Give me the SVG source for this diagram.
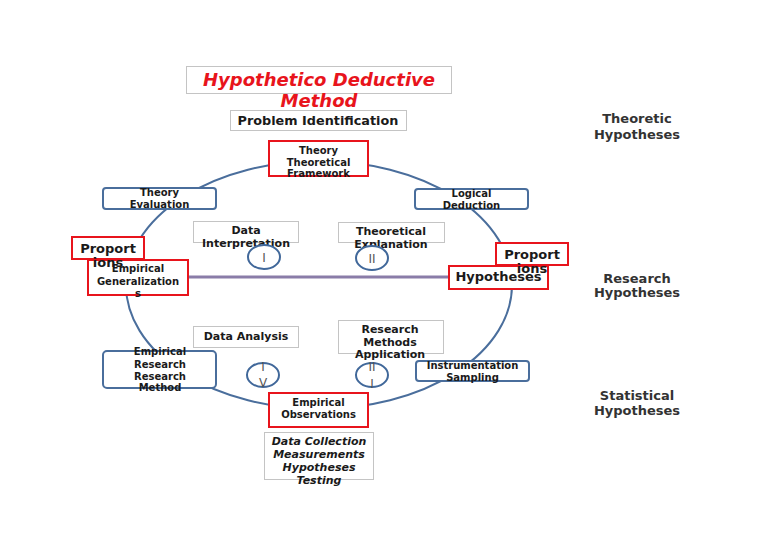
<svg xmlns="http://www.w3.org/2000/svg" width="768" height="543" viewBox="0 0 768 543">
<style>
.t{font-family:"DejaVu Sans",Verdana,sans-serif;font-weight:bold;fill:#1a1a1a;text-anchor:middle}
.s10{font-size:10px}.s11{font-size:11px}.s13{font-size:13px}
.side{fill:#333}
.gray{fill:#fff;stroke:#c4c4c4;stroke-width:1}
.red{fill:#fff;stroke:#e8141c;stroke-width:2}
.blue{fill:#fff;stroke:#4a6e9c;stroke-width:2}
.circ{fill:#fff;stroke:#41689a;stroke-width:2}
.ct{font-family:"DejaVu Sans",Verdana,sans-serif;font-size:12px;fill:#555;text-anchor:middle}
</style>
<rect width="768" height="543" fill="#fff"/>
<g id="connectors">
<ellipse cx="319" cy="285" rx="193" ry="124" fill="none" stroke="#4a6e9c" stroke-width="2"/>
<line x1="188" y1="277" x2="449" y2="277" stroke="#8a7ca8" stroke-width="3"/>
</g>
<g id="title">
<rect class="gray" x="186.5" y="66.5" width="265" height="27"/>
<text class="t" style="font-size:18px;font-style:italic;fill:#e8141c" x="319" y="85.5">Hypothetico Deductive</text>
<text class="t" style="font-size:18px;font-style:italic;fill:#e8141c" x="319" y="106.5">Method</text>
</g>
<g id="problem">
<rect class="gray" x="230.5" y="110.5" width="176" height="20"/>
<text class="t" style="font-size:12.8px" x="318" y="124.5">Problem Identification</text>
</g>
<g id="theory">
<rect class="red" x="269" y="141" width="99" height="35"/>
<text class="t s10" x="318.5" y="154">Theory</text>
<text class="t s10" x="318.5" y="165.5">Theoretical</text>
<text class="t s10" x="318.5" y="177">Framework</text>
</g>
<g id="theory-eval">
<rect class="blue" x="103" y="188" width="113" height="21" rx="3"/>
<text class="t s10" x="159.5" y="195.5">Theory</text>
<text class="t s10" x="159.5" y="207.5">Evaluation</text>
</g>
<g id="logical">
<rect class="blue" x="415" y="189" width="113" height="20" rx="3"/>
<text class="t s10" x="471.5" y="196.5">Logical</text>
<text class="t s10" x="471.5" y="208.5">Deduction</text>
</g>
<g id="data-interp">
<rect class="gray" x="193.5" y="221.5" width="105" height="21"/>
<text class="t s11" x="246" y="234">Data</text>
<text class="t s11" x="246" y="247">Interpretation</text>
</g>
<g id="theo-expl">
<rect class="gray" x="338.5" y="222.5" width="106" height="20"/>
<text class="t s11" x="391" y="235">Theoretical</text>
<text class="t s11" x="391" y="248">Explanation</text>
</g>
<g id="circle-1">
<ellipse class="circ" cx="264" cy="257" rx="16" ry="12"/>
<text class="ct" x="264" y="261.5">I</text>
</g>
<g id="circle-2">
<ellipse class="circ" cx="372" cy="258" rx="16" ry="12"/>
<text class="ct" x="372" y="262.5">II</text>
</g>
<g id="emp-gen">
<rect class="red" x="88" y="260" width="100" height="35"/>
<text class="t s10" x="138" y="271.5">Empirical</text>
<text class="t s10" x="138" y="284.5">Generalization</text>
<text class="t s10" x="138" y="296.5">s</text>
</g>
<g id="prop-left">
<rect class="red" x="72" y="237" width="72" height="22"/>
<text class="t s13" x="108" y="252.5">Proport</text>
<text class="t s13" x="108" y="266.5">ions</text>
</g>
<g id="hypotheses">
<rect class="red" x="449" y="266" width="99" height="23"/>
<text class="t s13" x="498.5" y="280.5">Hypotheses</text>
</g>
<g id="prop-right">
<rect class="red" x="496" y="243" width="72" height="22"/>
<text class="t s13" x="532" y="258.5">Proport</text>
<text class="t s13" x="532" y="272.5">ions</text>
</g>
<g id="data-analysis">
<rect class="gray" x="193.5" y="326.5" width="105" height="21"/>
<text class="t s11" x="246" y="340">Data Analysis</text>
</g>
<g id="research-methods">
<rect class="gray" x="338.5" y="320.5" width="105" height="33"/>
<text class="t s11" x="390" y="333">Research</text>
<text class="t s11" x="390" y="346">Methods</text>
<text class="t s11" x="390" y="358">Application</text>
</g>
<g id="circle-4">
<ellipse class="circ" cx="263" cy="375" rx="16" ry="12"/>
<text class="ct" x="263" y="370.5">I</text>
<text class="ct" x="263" y="386.5">V</text>
</g>
<g id="circle-3">
<ellipse class="circ" cx="372" cy="375" rx="16" ry="12"/>
<text class="ct" x="372" y="370.5">II</text>
<text class="ct" x="372" y="387.5">I</text>
</g>
<g id="emp-research">
<rect class="blue" x="103" y="351" width="113" height="37" rx="4"/>
<text class="t s10" x="160" y="354.5">Empirical</text>
<text class="t s10" x="160" y="367.5">Research</text>
<text class="t s10" x="160" y="379.5">Research</text>
<text class="t s10" x="160" y="391">Method</text>
</g>
<g id="instrumentation">
<rect class="blue" x="416" y="361" width="113" height="20" rx="3"/>
<text class="t s10" x="472.5" y="368.5">Instrumentation</text>
<text class="t s10" x="472.5" y="380.5">Sampling</text>
</g>
<g id="emp-obs">
<rect class="red" x="269" y="393" width="99" height="34"/>
<text class="t s10" x="318.5" y="405.5">Empirical</text>
<text class="t s10" x="318.5" y="417.5">Observations</text>
</g>
<g id="data-collection">
<rect class="gray" x="264.5" y="432.5" width="109" height="47"/>
<text class="t s11" style="font-style:italic" x="319" y="445">Data Collection</text>
<text class="t s11" style="font-style:italic" x="319" y="458">Measurements</text>
<text class="t s11" style="font-style:italic" x="319" y="471">Hypotheses</text>
<text class="t s11" style="font-style:italic" x="319" y="484">Testing</text>
</g>
<g id="side-theoretic">
<text class="t s13 side" x="637" y="122.5">Theoretic</text>
<text class="t s13 side" x="637" y="138.5">Hypotheses</text>
</g>
<g id="side-research">
<text class="t s13 side" x="637" y="282.5">Research</text>
<text class="t s13 side" x="637" y="296.5">Hypotheses</text>
</g>
<g id="side-statistical">
<text class="t s13 side" x="637" y="399.5">Statistical</text>
<text class="t s13 side" x="637" y="414.5">Hypotheses</text>
</g>
</svg>
